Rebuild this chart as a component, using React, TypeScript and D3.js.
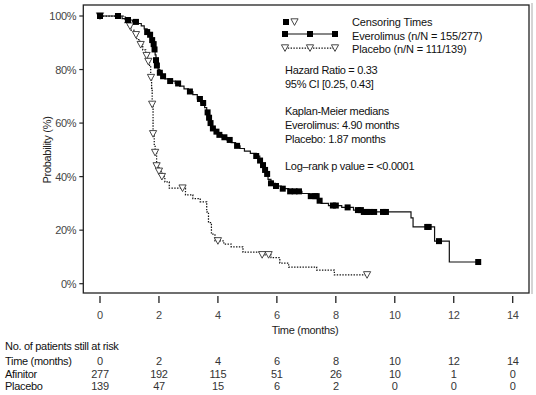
import React from 'react';
import * as d3 from 'd3';

const xTicks = [0, 2, 4, 6, 8, 10, 12, 14];
const yTicks = [0, 0.2, 0.4, 0.6, 0.8, 1];
const yTickLabels = ['0%', '20%', '40%', '60%', '80%', '100%'];

// [time (months), survival after step]
const everolimusSteps: [number, number][] = [
  [0, 1], [0.75, 0.99], [0.95, 0.985], [1.1, 0.978], [1.25, 0.972], [1.4, 0.963], [1.5, 0.952],
  [1.6, 0.94], [1.68, 0.93], [1.75, 0.91], [1.8, 0.895], [1.84, 0.875], [1.87, 0.855],
  [1.9, 0.835], [1.93, 0.815], [1.97, 0.8], [2.03, 0.788], [2.1, 0.775], [2.2, 0.765],
  [2.35, 0.757], [2.55, 0.748], [2.7, 0.738], [2.85, 0.728], [3.0, 0.718], [3.15, 0.706],
  [3.3, 0.69], [3.42, 0.675], [3.55, 0.658], [3.62, 0.64], [3.68, 0.62], [3.73, 0.6],
  [3.8, 0.58], [3.9, 0.568], [4.0, 0.556], [4.15, 0.547], [4.3, 0.537], [4.45, 0.527],
  [4.6, 0.515], [4.75, 0.505], [4.9, 0.495], [5.1, 0.487], [5.3, 0.477], [5.42, 0.46],
  [5.5, 0.443], [5.57, 0.425], [5.63, 0.41], [5.7, 0.39], [5.8, 0.375], [5.95, 0.365],
  [6.15, 0.355], [6.4, 0.345], [6.85, 0.337], [7.1, 0.327], [7.4, 0.31], [7.5, 0.3],
  [7.75, 0.292], [8.2, 0.285], [8.6, 0.275], [8.9, 0.268], [10.55, 0.246], [10.62, 0.212],
  [11.35, 0.159], [11.85, 0.081],
];
const everolimusEnd = 12.83;
const everolimusCensor = [
  0, 0.61, 0.95, 1.22, 1.6, 1.7, 1.77, 1.82, 1.85, 1.9, 1.93, 2.03, 2.14, 2.38, 2.65, 3.05,
  3.39, 3.5, 3.65, 3.7, 3.75, 3.83, 3.95, 4.05, 4.22, 4.4, 4.65, 5.3, 5.43, 5.53, 5.6, 5.67,
  5.8, 5.97, 6.2, 6.45, 6.6, 6.75, 7.15, 7.3, 7.35, 7.45, 7.9, 8.0, 8.4, 8.75, 8.85, 8.95,
  9.05, 9.15, 9.3, 9.6, 9.7, 11.1, 11.15, 11.5, 12.83,
];

const placeboSteps: [number, number][] = [
  [0, 1], [0.85, 0.975], [0.95, 0.962], [1.05, 0.947], [1.15, 0.93], [1.25, 0.912],
  [1.35, 0.893], [1.45, 0.873], [1.55, 0.852], [1.62, 0.83], [1.68, 0.81], [1.72, 0.77],
  [1.75, 0.73], [1.77, 0.67], [1.8, 0.56], [1.84, 0.52], [1.87, 0.49], [1.92, 0.44],
  [2.0, 0.42], [2.1, 0.4], [2.2, 0.38], [2.35, 0.357], [2.9, 0.332], [3.15, 0.318],
  [3.4, 0.306], [3.62, 0.268], [3.68, 0.228], [3.78, 0.185], [3.9, 0.16], [4.2, 0.148],
  [4.45, 0.138], [4.85, 0.118], [5.45, 0.108], [5.8, 0.097], [6.1, 0.077], [6.4, 0.062],
  [7.35, 0.051], [7.95, 0.033],
];
const placeboEnd = 9.06;
const placeboCensor = [0, 1.02, 1.22, 1.38, 1.58, 1.64, 1.73, 1.77, 1.8, 1.87, 1.92, 2.0, 2.1, 2.8, 4.0, 5.5, 5.72, 9.06];

const riskTimes = [0, 2, 4, 6, 8, 10, 12, 14];
const riskAfinitor = [277, 192, 115, 51, 26, 10, 1, 0];
const riskPlacebo = [139, 47, 15, 6, 2, 0, 0, 0];

const legendTexts = ['Censoring Times', 'Everolimus (n/N = 155/277)', 'Placebo (n/N = 111/139)'];
const statTexts = [
  'Hazard Ratio = 0.33', '95% CI [0.25, 0.43]', '', 'Kaplan-Meier medians',
  'Everolimus: 4.90 months', 'Placebo: 1.87 months', '', 'Log\u2013rank p value = <0.0001',
];

const FONT = "'Liberation Sans', Arial, sans-serif";

function survAt(steps: [number, number][], t: number) {
  let s = steps[0][1];
  for (const [tt, v] of steps) {
    if (tt <= t + 1e-9) s = v;
  }
  return s;
}

const TRI = 'M-3.6,-3.2L3.6,-3.2L0,3.4Z';

export default function App() {
  const W = 536, H = 395;
  const x = d3.scaleLinear().domain([0, 14]).range([100, 512.7]);
  const y = d3.scaleLinear().domain([0, 1]).range([283.7, 16]);
  const line = d3.line<[number, number]>().x(d => x(d[0])).y(d => y(d[1])).curve(d3.curveStepAfter);

  const evoPts: [number, number][] = [...everolimusSteps, [everolimusEnd, everolimusSteps[everolimusSteps.length - 1][1]]];
  const plaPts: [number, number][] = [...placeboSteps, [placeboEnd, placeboSteps[placeboSteps.length - 1][1]]];

  const box = { l: 83.3, t: 5, r: 529, b: 293 };
  const txt = { fontFamily: FONT, fontSize: 11, letterSpacing: -0.3 } as const;
  const txtL = { fontFamily: FONT, fontSize: 11, letterSpacing: -0.15 } as const;

  return (
    <svg width={W} height={H} style={{ position: 'absolute', left: 0, top: 0, background: '#fff' }}>
      {/* frame */}
      <line x1={box.r + 3} x2={box.r + 3} y1={box.t - 2} y2={box.b + 1} stroke="#aaa" strokeWidth={1} />
      <rect x={box.l} y={box.t} width={box.r - box.l} height={box.b - box.t} fill="none" stroke="#222" strokeWidth={1.3} />

      {/* y ticks */}
      {yTicks.map((v, i) => (
        <g key={'y' + i}>
          <line x1={box.l - 4} x2={box.l} y1={y(v)} y2={y(v)} stroke="#222" strokeWidth={1.2} />
          <text x={box.l - 7} y={y(v) + 4} textAnchor="end" fill="#444" style={txt}>{yTickLabels[i]}</text>
        </g>
      ))}
      {/* x ticks */}
      {xTicks.map((v, i) => (
        <g key={'x' + i}>
          <line x1={x(v)} x2={x(v)} y1={296} y2={303} stroke="#222" strokeWidth={1.3} />
          <text x={x(v)} y={318.5} textAnchor="middle" fill="#444" style={txt}>{v}</text>
        </g>
      ))}
      <text x={305} y={334} textAnchor="middle" fill="#222" style={txt}>Time (months)</text>
      <text transform={`translate(51,150) rotate(-90)`} textAnchor="middle" fill="#222" style={txt}>Probability (%)</text>

      {/* curves */}
      <path d={line(plaPts) || ''} fill="none" stroke="#111" strokeWidth={1.25} strokeDasharray="1.4 1.4" />
      <path d={line(evoPts) || ''} fill="none" stroke="#111" strokeWidth={1.2} />
      {placeboCensor.map((t, i) => (
        <path key={'pc' + i} d={TRI} transform={`translate(${x(t)},${y(survAt(placeboSteps, t))})`} fill="#fff" stroke="#333" strokeWidth={0.9} />
      ))}
      {everolimusCensor.map((t, i) => (
        <rect key={'ec' + i} x={x(t) - 3} y={y(survAt(everolimusSteps, t)) - 3} width={6} height={6} fill="#000" />
      ))}

      {/* legend */}
      <rect x={283} y={19} width={6} height={6} fill="#000" />
      <path d={TRI} transform="translate(294.5,22)" fill="#fff" stroke="#333" strokeWidth={0.9} />
      <line x1={285} x2={335} y1={34} y2={34} stroke="#111" strokeWidth={1.2} />
      {[285, 310, 335].map((cx, i) => (
        <rect key={'le' + i} x={cx - 3} y={31} width={6} height={6} fill="#000" />
      ))}
      <line x1={285} x2={335} y1={48} y2={48} stroke="#111" strokeWidth={1.25} strokeDasharray="1.4 1.4" />
      {[285, 310, 335].map((cx, i) => (
        <path key={'lp' + i} d={TRI} transform={`translate(${cx},48)`} fill="#fff" stroke="#333" strokeWidth={0.9} />
      ))}
      {legendTexts.map((s, i) => (
        <text key={'lt' + i} x={352} y={26 + i * 13.7} fill="#111" style={txtL}>{s}</text>
      ))}
      {statTexts.map((s, i) => (
        <text key={'st' + i} x={285} y={74 + i * 13.7} fill="#111" style={txt}>{s}</text>
      ))}

      {/* risk table */}
      <text x={5} y={350} fill="#111" style={txt}>No. of patients still at risk</text>
      <text x={5} y={365} fill="#111" style={txt}>Time (months)</text>
      <text x={5} y={377.5} fill="#111" style={txt}>Afinitor</text>
      <text x={5} y={390} fill="#111" style={txt}>Placebo</text>
      {riskTimes.map((t, i) => (
        <g key={'r' + i}>
          <text x={x(t)} y={365} textAnchor="middle" fill="#333" style={txt}>{t}</text>
          <text x={x(t)} y={377.5} textAnchor="middle" fill="#333" style={txt}>{riskAfinitor[i]}</text>
          <text x={x(t)} y={390} textAnchor="middle" fill="#333" style={txt}>{riskPlacebo[i]}</text>
        </g>
      ))}
    </svg>
  );
}
